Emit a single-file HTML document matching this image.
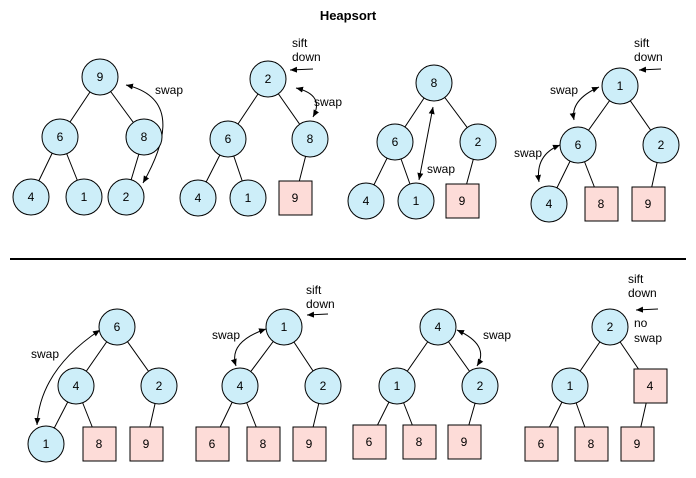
<!DOCTYPE html>
<html><head><style>body{margin:0;background:#fff}svg{display:block}text{font-family:"Liberation Sans",sans-serif;font-size:12px;fill:#000}</style></head><body>
<svg width="696" height="478" viewBox="0 0 696 478">
<defs><marker id="a" markerWidth="8" markerHeight="8" refX="7" refY="4" orient="auto-start-reverse" markerUnits="userSpaceOnUse"><path d="M0,1 L7,4 L0,7 Z" fill="#000"/></marker></defs>
<text x="348" y="20" text-anchor="middle" style="font-weight:bold;font-size:13px">Heapsort</text>
<line x1="10" y1="259" x2="686" y2="259" stroke="#000" stroke-width="2"/>
<g stroke="#000" stroke-width="1" fill="none">
<path d="M100,77L60,137M100,77L144,137M60,137L31,197M60,137L84,197M144,137L126,197"/>
<path d="M268,79L228,139M268,79L310,139M228,139L198,198M228,139L248,198M310,139L295,198"/>
<path d="M434,83L395,142M434,83L478,142M395,142L366,201M395,142L416,201M478,142L462,201"/>
<path d="M620,86L578,145M620,86L661,145M578,145L549,204M578,145L601,204M661,145L648,204"/>
<path d="M117,327L76,386M117,327L159,386M76,386L46,444M76,386L99,444M159,386L146,444"/>
<path d="M284,327L240,386M284,327L323,386M240,386L212,444M240,386L263,444M323,386L309,444"/>
<path d="M438,327L397,386M438,327L480,386M397,386L369,442M397,386L419,442M480,386L464,442"/>
<path d="M610,327L570,386M610,327L650,386M570,386L541,444M570,386L591,444M650,386L637,444"/>
<path d="M126,85 Q190,100 143,183" marker-start="url(#a)" marker-end="url(#a)"/>
<path d="M296,88 Q325,95 313,117" marker-start="url(#a)" marker-end="url(#a)"/>
<path d="M313,69 L290,70" marker-end="url(#a)"/>
<path d="M433,107 L419,180" marker-start="url(#a)" marker-end="url(#a)"/>
<path d="M599,87 Q570,100 574,120" marker-start="url(#a)" marker-end="url(#a)"/>
<path d="M560,145 Q535,155 539,182" marker-start="url(#a)" marker-end="url(#a)"/>
<path d="M661,69 L639,70" marker-end="url(#a)"/>
<path d="M100,330 Q40,370 37,425" marker-start="url(#a)" marker-end="url(#a)"/>
<path d="M328,314 L307,315" marker-end="url(#a)"/>
<path d="M266,329 Q228,342 236,366" marker-start="url(#a)" marker-end="url(#a)"/>
<path d="M457,330 Q490,345 477,366" marker-start="url(#a)" marker-end="url(#a)"/>
<path d="M658,309 L636,310" marker-end="url(#a)"/>
</g>
<g fill="#cdeef9" stroke="#000" stroke-width="1">
<circle cx="100" cy="77" r="18"/><circle cx="60" cy="137" r="18"/><circle cx="144" cy="137" r="18"/><circle cx="31" cy="197" r="18"/><circle cx="84" cy="197" r="18"/><circle cx="126" cy="197" r="18"/>
<circle cx="268" cy="79" r="18"/><circle cx="228" cy="139" r="18"/><circle cx="310" cy="139" r="18"/><circle cx="198" cy="198" r="18"/><circle cx="248" cy="198" r="18"/>
<circle cx="434" cy="83" r="18"/><circle cx="395" cy="142" r="18"/><circle cx="478" cy="142" r="18"/><circle cx="366" cy="201" r="18"/><circle cx="416" cy="201" r="18"/>
<circle cx="620" cy="86" r="18"/><circle cx="578" cy="145" r="18"/><circle cx="661" cy="145" r="18"/><circle cx="549" cy="204" r="18"/>
<circle cx="117" cy="327" r="18"/><circle cx="76" cy="386" r="18"/><circle cx="159" cy="386" r="18"/><circle cx="46" cy="444" r="18"/>
<circle cx="284" cy="327" r="18"/><circle cx="240" cy="386" r="18"/><circle cx="323" cy="386" r="18"/>
<circle cx="438" cy="327" r="18"/><circle cx="397" cy="386" r="18"/><circle cx="480" cy="386" r="18"/>
<circle cx="610" cy="327" r="18"/><circle cx="570" cy="386" r="18"/>
</g>
<g fill="#fddcd8" stroke="#000" stroke-width="1">
<rect x="279" y="181" width="33" height="34"/><rect x="446" y="184" width="33" height="34"/>
<rect x="585" y="187" width="33" height="34"/><rect x="632" y="187" width="33" height="34"/>
<rect x="83" y="427" width="33" height="34"/><rect x="130" y="427" width="33" height="34"/>
<rect x="196" y="427" width="33" height="34"/><rect x="247" y="427" width="33" height="34"/><rect x="293" y="427" width="33" height="34"/>
<rect x="353" y="425" width="33" height="34"/><rect x="403" y="425" width="33" height="34"/><rect x="448" y="425" width="33" height="34"/>
<rect x="634" y="369" width="33" height="34"/>
<rect x="525" y="427" width="33" height="34"/><rect x="575" y="427" width="33" height="34"/><rect x="621" y="427" width="33" height="34"/>
</g>
<g text-anchor="middle">
<text x="100" y="81">9</text><text x="60" y="141">6</text><text x="144" y="141">8</text><text x="31" y="201">4</text><text x="84" y="201">1</text><text x="126" y="201">2</text>
<text x="268" y="83">2</text><text x="228" y="143">6</text><text x="310" y="143">8</text><text x="198" y="202">4</text><text x="248" y="202">1</text><text x="295" y="202">9</text>
<text x="434" y="87">8</text><text x="395" y="146">6</text><text x="478" y="146">2</text><text x="366" y="205">4</text><text x="416" y="205">1</text><text x="462" y="205">9</text>
<text x="620" y="90">1</text><text x="578" y="149">6</text><text x="661" y="149">2</text><text x="549" y="208">4</text><text x="601" y="208">8</text><text x="648" y="208">9</text>
<text x="117" y="331">6</text><text x="76" y="390">4</text><text x="159" y="390">2</text><text x="46" y="448">1</text><text x="99" y="448">8</text><text x="146" y="448">9</text>
<text x="284" y="331">1</text><text x="240" y="390">4</text><text x="323" y="390">2</text><text x="212" y="448">6</text><text x="263" y="448">8</text><text x="309" y="448">9</text>
<text x="438" y="331">4</text><text x="397" y="390">1</text><text x="480" y="390">2</text><text x="369" y="446">6</text><text x="419" y="446">8</text><text x="464" y="446">9</text>
<text x="610" y="331">2</text><text x="570" y="390">1</text><text x="650" y="390">4</text><text x="541" y="448">6</text><text x="591" y="448">8</text><text x="637" y="448">9</text>
</g>
<text x="155" y="94">swap</text>
<text x="292" y="47">sift</text><text x="292" y="61">down</text>
<text x="314" y="106">swap</text>
<text x="427" y="173">swap</text>
<text x="634" y="47">sift</text><text x="634" y="61">down</text>
<text x="550" y="94">swap</text>
<text x="514" y="157">swap</text>
<text x="31" y="358">swap</text>
<text x="306" y="294">sift</text><text x="306" y="308">down</text>
<text x="212" y="339">swap</text>
<text x="483" y="339">swap</text>
<text x="628" y="283">sift</text><text x="628" y="297">down</text>
<text x="634" y="327">no</text><text x="634" y="342">swap</text>
</svg>
</body></html>
